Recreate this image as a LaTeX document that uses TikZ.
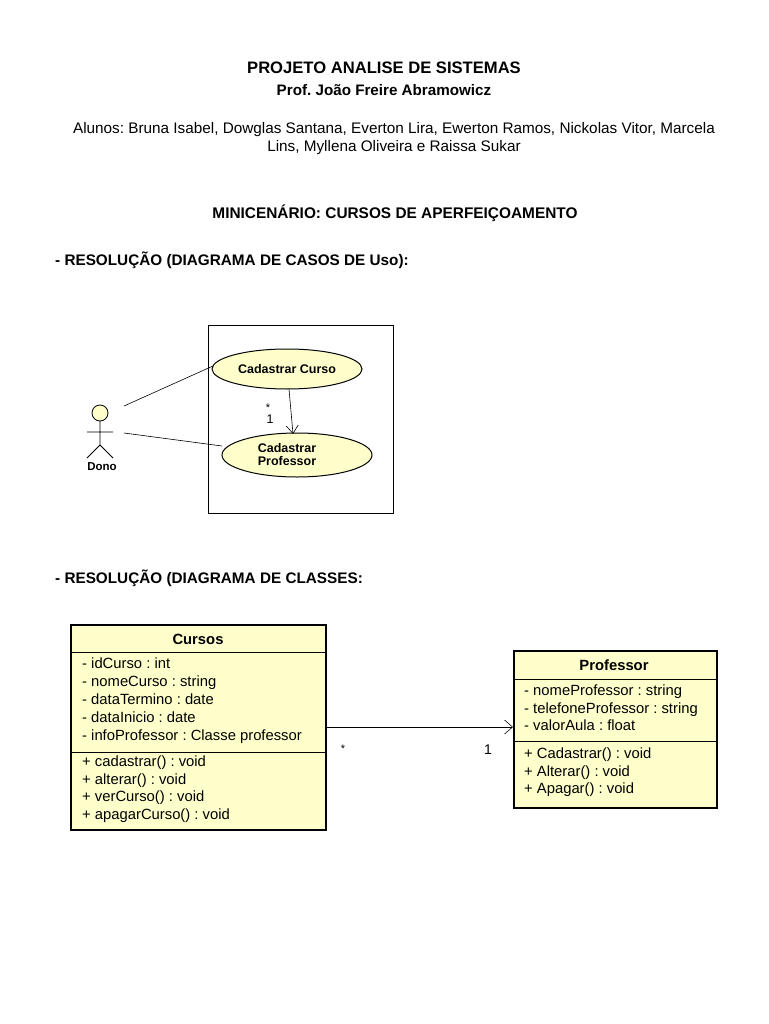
\documentclass[tikz,border=0pt]{standalone}
\usepackage{fontspec}
\setmainfont{Liberation Sans}
\usetikzlibrary{arrows.meta,shapes.geometric}
\definecolor{umlfill}{HTML}{FFFFCC}
\frenchspacing
\begin{document}
\begin{tikzpicture}[x=1pt,y=-1pt,
  uc/.style={ellipse,draw,line width=1pt,fill=umlfill,minimum width=150pt,inner sep=0pt,font=\fontsize{12.5}{13}\selectfont\bfseries,align=left},
  cls/.style={draw,line width=1.3pt,fill=umlfill},
  txt/.style={anchor=west,inner sep=0pt,text height=10.5pt,text depth=3.5pt,font=\fontsize{14.8}{16}\selectfont},
  conn/.style={line width=0.6pt}]
\useasboundingbox (0,0) rectangle (768,1024);
\fill[white] (0,0) rectangle (768,1024);
\node[font=\fontsize{16.6}{19}\selectfont\bfseries] (t1) at (384,68) {PROJETO ANALISE DE SISTEMAS};
\node[font=\fontsize{15.2}{17}\selectfont\bfseries] (t2) at (384,90) {Prof. João Freire Abramowicz};
\node[font=\fontsize{15.3}{18}\selectfont,align=center] (t3) at (394,139) {Alunos: Bruna Isabel, Dowglas Santana, Everton Lira, Ewerton Ramos, Nickolas Vitor, Marcela\\ Lins, Myllena Oliveira e Raissa Sukar};
\node[font=\fontsize{15.4}{17}\selectfont\bfseries] (t4) at (395,213) {MINICENÁRIO: CURSOS DE APERFEIÇOAMENTO};
\node[txt,font=\fontsize{15.3}{17}\selectfont\bfseries] (t5) at (55,262) {- RESOLUÇÃO (DIAGRAMA DE CASOS DE Uso):};
\node[txt,font=\fontsize{15.3}{17}\selectfont\bfseries] (t6) at (55,580) {- RESOLUÇÃO (DIAGRAMA DE CLASSES:};
% use case
\draw[line width=0.8pt] (208,325) rectangle (393,513);
\node[uc,minimum height=40pt] (cc) at (287,369) {Cadastrar Curso};
\node[uc,minimum height=44pt] (cp) at (297,455) {\hspace*{-20pt}Cadastrar\\\hspace*{-20pt}Professor};
\coordinate (ccb) at (289,389);
\coordinate (cpt) at (293,434);
\draw[conn,-{Straight Barb[length=8pt,width=12pt]}] (ccb) -- (cpt);
\node[font=\fontsize{11}{12}\selectfont] (m1) at (268,408) {*};
\node[font=\fontsize{12.5}{12}\selectfont] (m2) at (270,419) {1};
\draw[line width=0.8pt,fill=umlfill] (100,413) circle (8);
\coordinate (neck) at (100,421);
\coordinate (hip) at (100,445);
\draw[line width=0.8pt] (neck) -- (hip) (87,432) -- (113,432) (87,458) -- (hip) -- (113,458);
\node[font=\fontsize{11.5}{12}\selectfont\bfseries] (dono) at (102,467) {Dono};
\coordinate (a1) at (124,406);
\coordinate (a2) at (124,433);
\draw[conn] (a1) -- (213,366);
\draw[conn] (a2) -- (222,446);
% classes
\draw[cls] (71,625) rectangle (326,830);
\draw[line width=1pt] (71,652) -- (326,652) (71,752) -- (326,752);
\node[font=\fontsize{14.8}{16}\selectfont\bfseries] (cursos) at (198,639) {Cursos};
\node[txt] at (82,665) {- idCurso : int};
\node[txt] at (82,683) {- nomeCurso : string};
\node[txt] at (82,701) {- dataTermino : date};
\node[txt] at (82,719) {- dataInicio : date};
\node[txt] at (82,737) {- infoProfessor : Classe professor};
\node[txt] at (82,763) {+ cadastrar() : void};
\node[txt] at (82,781) {+ alterar() : void};
\node[txt] at (82,798) {+ verCurso() : void};
\node[txt] at (82,816) {+ apagarCurso() : void};
\draw[cls] (514,651) rectangle (717,808);
\draw[line width=1pt] (514,679) -- (717,679) (514,741) -- (717,741);
\node[font=\fontsize{14.8}{16}\selectfont\bfseries] (prof) at (614,665) {Professor};
\node[txt] at (524,692) {- nomeProfessor : string};
\node[txt] at (524,710) {- telefoneProfessor : string};
\node[txt] at (524,727) {- valorAula : float};
\node[txt] at (524,755) {+ Cadastrar() : void};
\node[txt] at (524,773) {+ Alterar() : void};
\node[txt] at (524,790) {+ Apagar() : void};
\coordinate (cr) at (327,727);
\coordinate (pl) at (513,727);
\draw[conn,-{Straight Barb[length=8pt,width=14pt]}] (cr) -- (pl);
\node[font=\fontsize{11}{12}\selectfont] (s1) at (343,749) {*};
\node[font=\fontsize{14}{12}\selectfont] (s2) at (488,750) {1};
\end{tikzpicture}
\end{document}
